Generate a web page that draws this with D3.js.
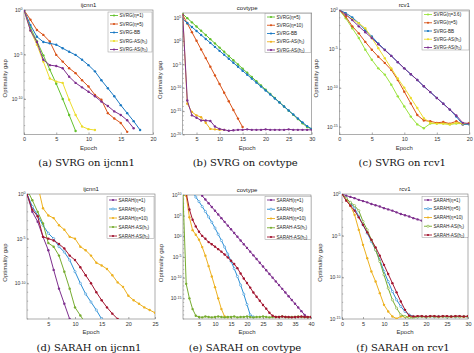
<!DOCTYPE html>
<html>
<head>
<meta charset="utf-8">
<script src="https://cdn.jsdelivr.net/npm/d3@7"></script>
<style>
  body { margin: 0; background: #fff; }
  svg { display: block; font-family: "Liberation Sans", Arial, sans-serif; }
</style>
</head>
<body>
<svg id="fig" width="474" height="353"></svg>
<script>
// all values are log10 of the optimality gap, one per epoch (first epoch given by the series start)

// (a) SVRG on ijcnn1, epochs from 0
const a_eta1 = [0, -2.0, -3.5, -5.1, -6.7, -8.3, -10.0, -11.8, -13.6];
const a_eta5 = [0, -1.1, -2.25, -2.8, -3.55, -5.05, -5.8, -6.55, -7.1, -7.9, -8.6, -9.55, -10.1, -11.6, -12.2, -12.7, -13.7];
const a_bb = [0, -1.7, -3.0, -3.6, -3.75, -3.9, -4.3, -4.7, -5.05, -5.6, -6.2, -6.9, -7.9, -8.8, -9.7, -10.7, -11.6, -12.5, -13.5];
const a_as1 = [0, -2.3, -3.9, -5.8, -7.7, -8.05, -8.2, -10.1, -11.8, -13.1, -13.4, -13.5];
const a_as2 = [0, -2.3, -3.6, -5.6, -6.2, -6.3, -6.55, -7.5, -8.2, -8.7, -9.2, -9.7, -10.3, -10.8, -11.4, -11.8, -12.4, -13.3];

// (b) SVRG on covtype, epochs from 2
const b_eta5 = [5.8, 4.9, 4.0, 3.1, 2.2, 1.3, 0.4, -0.5, -1.4, -2.3, -3.2, -4.1, -5.0, -5.9, -6.8, -7.7, -8.6, -9.5, -10.4, -11.3, -12.2, -13.1, -14.0, -14.9, -15.8, -16.7, -17.6, -18.4, -18.8];
const b_eta10 = [5.6, 3.75, 1.9, 0.05, -1.8, -3.65, -5.5, -7.35, -9.2, -11.05, -12.9, -14.75, -16.6, -18.4];
const b_bb = [4.7, 3.85, 3.0, 2.15, 1.3, 0.45, -0.4, -1.25, -2.1, -2.95, -3.8, -4.65, -5.5, -6.35, -7.2, -8.05, -8.9, -9.75, -10.6, -11.45, -12.3, -13.15, -14.0, -14.85, -15.7, -16.55, -17.4, -18.2, -18.8];
const b_as1 = [5.6, -13.4, -15.2, -15.9, -16.3, -17.5, -18.8, -18.9, -19.0, -19.0];
const b_as2 = [5.6, -12.7, -15.9, -16.4, -17.0, -17.0, -17.1, -18.3, -18.8, -19.0, -19.2, -19.1, -19.0, -19.0, -18.9, -19.0, -19.0, -19.0, -18.9, -19.0, -19.0, -19.0, -19.0, -18.9, -19.0, -19.0, -19.0, -19.0, -19.0];

// (c) SVRG on rcv1, epochs from 0
const c_eta36 = [0, -1.07, -2.35, -3.6, -5.1, -6.4, -7.5, -8.3, -9.6, -11.1, -12.4, -13.7, -14.7, -15.2, -14.6, -14.6, -14.6, -14.7, -14.6, -14.6, -14.6];
const c_eta5 = [0, -0.85, -2.1, -3.0, -4.1, -5.1, -6.0, -6.8, -7.7, -9.0, -10.5, -12.0, -13.5, -14.2, -14.3, -14.5, -14.4, -14.6, -14.3, -14.7, -14.5];
const c_bb = [0, -0.4, -0.95, -1.7, -2.6, -3.4, -4.3, -5.1, -5.9, -6.7, -7.5, -8.25, -9.0, -9.8, -10.55, -11.3, -12.05, -12.8, -13.7, -14.7, -14.7];
const c_as1 = [0, -0.6, -1.2, -1.7, -2.35, -3.6, -4.9, -6.2, -7.5, -8.8, -10.0, -11.3, -12.6, -13.9, -14.5, -14.6, -14.6, -14.7, -14.5, -14.6, -14.6];
const c_as2 = [0, -0.6, -1.3, -2.1, -2.85, -3.6, -4.4, -5.15, -5.9, -6.7, -7.5, -8.25, -9.0, -9.8, -10.55, -11.3, -12.05, -12.8, -13.55, -14.5, -14.6];

// (d) SARAH on ijcnn1
const d_eta1 = [0, -2.0, -3.1, -4.8, -6.3, -8.5, -10.6, -12.3, -14.0];            // from 1
const d_eta5 = [0, -1.4, -2.4, -3.5, -4.4, -5.0, -5.9, -6.5, -7.4, -8.7, -10.0, -11.2, -12.1, -13.0, -14.0]; // from 1
const d_eta10 = [1.0, -1.6, -2.4, -2.7, -3.5, -4.0, -4.8, -5.0, -5.9, -6.3, -6.9, -7.7, -8.0, -8.4, -9.1, -9.9, -10.4, -11.4, -11.9, -12.3, -12.7, -13.0, -13.3]; // from 3
const d_as1 = [0.5, -0.7, -2.0, -3.3, -5.5, -5.9, -6.9, -8.7, -10.6, -12.7, -13.6, -14.5]; // from 1
const d_as2 = [0, -1.75, -2.5, -4.8, -5.0, -5.2, -5.6, -6.1, -6.9, -7.4, -8.2, -9.1, -10.0, -11.0, -11.9, -12.7, -13.4, -14.0]; // from 1

// (e) SARAH on covtype
const e_eta1 = [10.7, 9.8, 8.9, 8.0, 7.1, 6.2, 5.3, 4.4, 3.5, 2.6, 1.7, 0.8, -0.1, -1.0, -1.9, -2.8, -3.7, -4.6, -5.5, -6.4, -7.3, -8.2, -9.1, -10.0, -10.9, -11.8, -12.7, -13.6, -14.5, -15.4, -16.3, -17.2, -18.1, -19.0, -19.6]; // from 5
const e_eta5 = [10.8, 9.5, 8.4, 7.2, 6.0, 4.7, 3.4, 2.0, 0.5, -1.0, -2.6, -4.3, -6.0, -7.8, -9.7, -11.8, -14.0, -16.5, -19.0, -19.5]; // from 3
const e_eta10 = [9.8, 4.6, 1.5, 0.4, -0.8, -2.6, -4.7, -7.2, -9.7, -12.3, -15.0, -17.6, -19.4, -19.6]; // from 1
const e_as1 = [10.0, -11.5, -15.0, -17.6, -19.2, -19.5, -19.6, -19.4, -19.5, -19.6, -19.5, -19.4, -19.5, -19.6, -19.5, -19.5, -19.4, -19.6, -19.5, -19.5, -19.4, -19.5, -19.6, -19.5, -19.5, -19.4, -19.5, -19.6, -19.5, -19.5, -19.5, -19.4, -19.5, -19.6, -19.5, -19.5, -19.4, -19.5, -19.5, -19.6, -19.5]; // from 0
const e_as2 = [10.5, 6.5, 4.0, 2.4, 1.1, 0.1, -0.6, -1.4, -1.9, -2.5, -3.1, -3.7, -4.4, -5.1, -5.9, -6.7, -7.7, -9.0, -10.2, -11.3, -12.4, -13.6, -14.6, -15.6, -16.6, -17.5, -18.5, -19.2, -19.5, -19.5, -19.4, -19.5, -19.5, -19.6, -19.5, -19.5, -19.4, -19.5, -19.5, -19.5]; // from 1

// (f) SARAH on rcv1, epochs from 0
const f_eta1 = [0, -0.2, -0.35, -0.5, -0.7, -0.85, -1.0, -1.2, -1.35, -1.5, -1.7, -1.85, -2.0, -2.2, -2.4, -2.55, -2.7, -2.9, -3.05, -3.2, -3.4, -3.55, -3.75, -3.9, -4.1, -4.25, -4.4, -4.6, -4.75, -4.9, -5.1];
const f_eta5 = [0, -0.5, -1.1, -1.7, -2.7, -3.7, -4.7, -5.7, -6.7, -7.9, -9.3, -10.5, -11.7, -12.7, -13.5, -14.1, -14.5, -14.7, -14.75, -14.7, -14.75, -14.7, -14.75, -14.7, -14.7, -14.75, -14.7, -14.75, -14.7, -14.7, -14.75];
const f_eta10 = [0, -0.6, -1.4, -2.5, -4.3, -6.1, -7.7, -9.3, -10.5, -11.9, -13.3, -14.1, -14.7, -14.95, -14.7, -14.75, -14.7, -14.75, -14.7, -14.7, -14.75, -14.7, -14.7, -14.75, -14.7, -14.7, -14.75, -14.7, -14.7, -14.75, -14.7];
const f_as1 = [0, -0.5, -1.0, -1.4, -2.0, -3.3, -4.3, -5.5, -6.7, -8.1, -9.7, -11.3, -12.7, -13.7, -14.5, -14.7, -14.85, -14.85, -14.75, -14.7, -14.75, -14.7, -14.7, -14.75, -14.7, -14.75, -14.7, -14.7, -14.75, -14.7, -14.7];
const f_as2 = [0, -0.8, -1.4, -2.0, -2.8, -3.7, -4.6, -5.5, -6.4, -7.4, -8.5, -9.6, -10.7, -11.8, -12.9, -13.9, -14.6, -14.7, -14.65, -14.65, -14.7, -14.65, -14.65, -14.7, -14.65, -14.65, -14.7, -14.65, -14.65, -14.7, -14.65];

const GREEN = "#63c12c", RED = "#d95319", BLUE = "#1a78c2", YELLOW = "#ecdc2c", PURPLE = "#7e2f8e";
const LIME = "#9be33f", ORANGE = "#edb120", DGREEN = "#77ac30", DRED = "#a2142f", LBLUE = "#2b8fd6";

const panels = [
  { title: "ijcnn1", caption: "(a) SVRG on ijcnn1", l: 24, r: 153, t: 10, b: 134.5,
    xDom: [0, 20], xTicks: [0, 5, 10, 15, 20], yDom: [-14, 0], yTicks: [0, -5, -10], ylabX: 7,
    leg: { x: 108, y: 12, w: 44, h: 40 },
    series: [
      { name: "SVRG(η=1)", color: GREEN, start: 0, v: a_eta1 },
      { name: "SVRG(η=5)", color: RED, start: 0, v: a_eta5 },
      { name: "SVRG-BB", color: BLUE, start: 0, v: a_bb },
      { name: "SVRG-AS(h₁)", color: YELLOW, start: 0, v: a_as1 },
      { name: "SVRG-AS(h₂)", color: PURPLE, start: 0, v: a_as2 } ] },
  { title: "covtype", caption: "(b) SVRG on covtype", l: 182.7, r: 311.7, t: 13, b: 134.5,
    xDom: [2, 30], xTicks: [5, 10, 15, 20, 25, 30], yDom: [-20, 6], yTicks: [5, 0, -5, -10, -15, -20], ylabX: 162,
    leg: { x: 265, y: 13.5, w: 46, h: 39 },
    series: [
      { name: "SVRG(η=5)", color: GREEN, start: 2, v: b_eta5 },
      { name: "SVRG(η=10)", color: RED, start: 2, v: b_eta10 },
      { name: "SVRG-BB", color: BLUE, start: 2, v: b_bb },
      { name: "SVRG-AS(h₁)", color: ORANGE, start: 2, v: b_as1 },
      { name: "SVRG-AS(h₂)", color: PURPLE, start: 2, v: b_as2 } ] },
  { title: "rcv1", caption: "(c) SVRG on rcv1", l: 339.3, r: 469.3, t: 10, b: 134.5,
    xDom: [0, 20], xTicks: [0, 5, 10, 15, 20], yDom: [-16, 0], yTicks: [0, -5, -10, -15], ylabX: 318,
    leg: { x: 422, y: 11, w: 47, h: 39 },
    series: [
      { name: "SVRG(η=3.6)", color: LIME, start: 0, v: c_eta36 },
      { name: "SVRG(η=5)", color: RED, start: 0, v: c_eta5 },
      { name: "SVRG-BB", color: BLUE, start: 0, v: c_bb },
      { name: "SVRG-AS(h₁)", color: YELLOW, start: 0, v: c_as1 },
      { name: "SVRG-AS(h₂)", color: PURPLE, start: 0, v: c_as2 } ] },
  { title: "ijcnn1", caption: "(d) SARAH on ijcnn1", l: 27, r: 155, t: 194, b: 319,
    xDom: [1, 25], xTicks: [5, 10, 15, 20, 25], yDom: [-14, 0], yTicks: [0, -5, -10], ylabX: 7,
    leg: { x: 107, y: 196.5, w: 47, h: 42 },
    series: [
      { name: "SARAH(η=1)", color: PURPLE, start: 1, v: d_eta1 },
      { name: "SARAH(η=5)", color: LBLUE, start: 1, v: d_eta5, hollow: true },
      { name: "SARAH(η=10)", color: ORANGE, start: 3, v: d_eta10 },
      { name: "SARAH-AS(h₁)", color: DGREEN, start: 1, v: d_as1 },
      { name: "SARAH-AS(h₂)", color: DRED, start: 1, v: d_as2 } ] },
  { title: "covtype", caption: "(e) SARAH on covtype", l: 183, r: 311, t: 195, b: 319,
    xDom: [0, 40], xTicks: [5, 10, 15, 20, 25, 30, 35, 40], yDom: [-20, 10], yTicks: [10, 5, 0, -5, -10, -15], ylabX: 163,
    leg: { x: 265, y: 196.5, w: 46, h: 43 },
    series: [
      { name: "SARAH(η=1)", color: PURPLE, start: 5, v: e_eta1 },
      { name: "SARAH(η=5)", color: LBLUE, start: 3, v: e_eta5, hollow: true },
      { name: "SARAH(η=10)", color: ORANGE, start: 1, v: e_eta10 },
      { name: "SARAH-AS(h₁)", color: DGREEN, start: 0, v: e_as1 },
      { name: "SARAH-AS(h₂)", color: DRED, start: 1, v: e_as2 } ] },
  { title: "rcv1", caption: "(f) SARAH on rcv1", l: 342, r: 468, t: 194, b: 319,
    xDom: [0, 30], xTicks: [0, 5, 10, 15, 20, 25, 30], yDom: [-15, 0], yTicks: [0, -5, -10, -15], ylabX: 322,
    leg: { x: 422, y: 196.5, w: 46, h: 41 },
    series: [
      { name: "SARAH(η=1)", color: PURPLE, start: 0, v: f_eta1 },
      { name: "SARAH(η=5)", color: LBLUE, start: 0, v: f_eta5, hollow: true },
      { name: "SARAH(η=10)", color: ORANGE, start: 0, v: f_eta10 },
      { name: "SARAH-AS(h₁)", color: DGREEN, start: 0, v: f_as1, hollow: true },
      { name: "SARAH-AS(h₂)", color: DRED, start: 0, v: f_as2 } ] }
];

const svg = d3.select("#fig");
const AXIS_COLOR = "#555";

panels.forEach((p, pi) => {
  const x = d3.scaleLinear().domain(p.xDom).range([p.l, p.r]);
  const y = d3.scaleLog().domain([10 ** p.yDom[0], 10 ** p.yDom[1]]).range([p.b, p.t]);
  const g = svg.append("g");

  const clipId = "clip" + pi;
  g.append("clipPath").attr("id", clipId)
    .append("rect").attr("x", p.l).attr("y", p.t).attr("width", p.r - p.l).attr("height", p.b - p.t);

  // x axis, ticks pointing inward
  const xa = g.append("g").attr("transform", `translate(0,${p.b})`)
    .call(d3.axisBottom(x).tickValues(p.xTicks).tickSize(-2).tickSizeOuter(0).tickPadding(3));
  xa.select(".domain").remove();
  xa.selectAll("line").attr("stroke", AXIS_COLOR).attr("stroke-width", 0.5);
  xa.selectAll("text").attr("font-size", 5.5).attr("fill", "#333").attr("font-family", "Liberation Sans, Arial, sans-serif");

  // y axis with 10^k labels
  const ya = g.append("g").attr("transform", `translate(${p.l},0)`)
    .call(d3.axisLeft(y).tickValues(p.yTicks.map(e => 10 ** e)).tickSize(-2).tickSizeOuter(0).tickPadding(1.5));
  ya.select(".domain").remove();
  ya.selectAll("line").attr("stroke", AXIS_COLOR).attr("stroke-width", 0.5);
  ya.selectAll("text")
    .attr("font-size", 5).attr("fill", "#333").attr("font-family", "Liberation Sans, Arial, sans-serif")
    .each(function (d) {
      const t = d3.select(this);
      const ex = Math.round(Math.log10(d));
      t.text("10");
      t.append("tspan").attr("dy", "-0.5em").attr("font-size", 3.6).text(ex);
    });

  // decade minor ticks
  const decades = d3.range(p.yDom[0], p.yDom[1] + 1);
  g.append("g").selectAll("line").data(decades).join("line")
    .attr("x1", p.l).attr("x2", p.l + 1.2)
    .attr("y1", d => y(10 ** d)).attr("y2", d => y(10 ** d))
    .attr("stroke", AXIS_COLOR).attr("stroke-width", 0.4);

  // box
  g.append("rect").attr("x", p.l).attr("y", p.t).attr("width", p.r - p.l).attr("height", p.b - p.t)
    .attr("fill", "none").attr("stroke", "#777").attr("stroke-width", 0.6);

  // series
  const plot = g.append("g").attr("clip-path", `url(#${clipId})`);
  p.series.forEach(s => {
    const pts = s.v.map((v, i) => [s.start + i, v]);
    const line = d3.line().x(d => x(d[0])).y(d => y(10 ** d[1]));
    plot.append("path").attr("d", line(pts))
      .attr("fill", "none").attr("stroke", s.color).attr("stroke-width", 1);
    plot.append("g").selectAll("circle").data(pts).join("circle")
      .attr("cx", d => x(d[0])).attr("cy", d => y(10 ** d[1]))
      .attr("r", s.hollow ? 1.1 : 1.2)
      .attr("fill", s.hollow ? "#fff" : s.color)
      .attr("stroke", s.color).attr("stroke-width", s.hollow ? 0.6 : 0);
  });

  // legend
  const lg = g.append("g");
  lg.append("rect").attr("x", p.leg.x).attr("y", p.leg.y).attr("width", p.leg.w).attr("height", p.leg.h)
    .attr("fill", "#fff").attr("stroke", "#999").attr("stroke-width", 0.5);
  const step = (p.leg.h - 6) / (p.series.length - 1);
  p.series.forEach((s, i) => {
    const yy = p.leg.y + 3.5 + i * step;
    lg.append("line").attr("x1", p.leg.x + 2).attr("x2", p.leg.x + 10).attr("y1", yy).attr("y2", yy)
      .attr("stroke", s.color).attr("stroke-width", 0.9);
    lg.append("circle").attr("cx", p.leg.x + 6).attr("cy", yy).attr("r", 1.1)
      .attr("fill", s.hollow ? "#fff" : s.color).attr("stroke", s.color).attr("stroke-width", s.hollow ? 0.6 : 0);
    lg.append("text").attr("x", p.leg.x + 11.5).attr("y", yy).attr("dy", "0.35em")
      .attr("font-size", 4.6).attr("fill", "#222").text(s.name);
  });

  // titles and labels
  g.append("text").attr("x", (p.l + p.r) / 2).attr("y", p.t - 3).attr("text-anchor", "middle")
    .attr("font-size", 6).attr("fill", "#222").text(p.title);
  g.append("text").attr("x", (p.l + p.r) / 2).attr("y", p.b + 15).attr("text-anchor", "middle")
    .attr("font-size", 6).attr("fill", "#333").text("Epoch");
  g.append("text")
    .attr("transform", `translate(${p.ylabX},${(p.t + p.b) / 2 + 6}) rotate(-90)`)
    .attr("text-anchor", "middle").attr("font-size", 6).attr("fill", "#333").text("Optimality gap");
  g.append("text").attr("x", (p.l + p.r) / 2 - 2).attr("y", p.b + 31.5).attr("text-anchor", "middle")
    .attr("font-family", "DejaVu Serif, serif").attr("font-size", 10).attr("fill", "#111")
    .text(p.caption);
});
</script>
</body>
</html>
